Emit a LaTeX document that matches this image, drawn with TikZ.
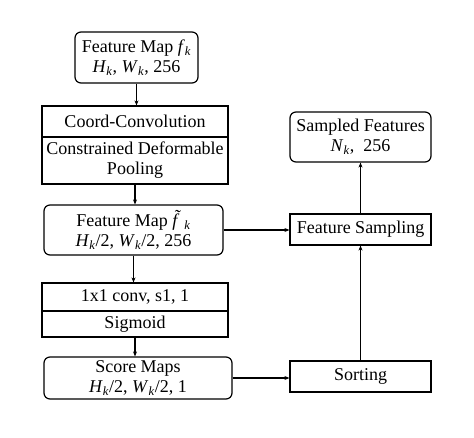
\documentclass[tikz,border=0pt]{standalone}
\usepackage{fontspec}
\setmainfont{Liberation Serif}
\usetikzlibrary{arrows.meta,positioning,calc}
\newcommand{\vsub}[2]{\textit{#1}\textsubscript{\textit{#2}}}
\tikzset{
  box/.style={draw,line width=1.2pt,inner sep=0pt,align=center,font=\fontsize{18}{20}\selectfont},
  rbox/.style={box,rounded corners=6pt},
  flow/.style={-{Stealth[length=5pt,width=4pt]},line width=1.2pt}
}
\begin{document}
\begin{tikzpicture}[x=1pt,y=-1pt]
      \useasboundingbox (0,0) rectangle (474,437);
      \begin{scope}
        \node[rbox,minimum width=123pt,minimum height=51pt] (fmap) at (136.5,57.5)
          {Feature Map \vsub{f}{k}\\ \vsub{H}{k}, \vsub{W}{k}, 256};
        \node[box,minimum width=186pt,minimum height=31pt] (coordconv) at (135,121.5) {Coord-Convolution};
        \node[box,minimum width=186pt,minimum height=47pt] (cdpool) at (135,160.5) {Constrained Deformable\\ Pooling};
        \node[rbox,minimum width=179pt,minimum height=50pt] (fmaptilde) at (133.5,230)
          {Feature Map \textit{\~{f}}\textsubscript{\textit{k}}\\ \vsub{H}{k}/2, \vsub{W}{k}/2, 256};
        \node[box,minimum width=186pt,minimum height=28pt] (conv) at (135,297) {1x1 conv, s1, 1};
        \node[box,minimum width=186pt,minimum height=26pt] (sigmoid) at (135,324) {Sigmoid};
        \node[rbox,minimum width=188pt,minimum height=42pt] (score) at (138,378)
          {Score Maps\\ \vsub{H}{k}/2, \vsub{W}{k}/2, 1};
      \end{scope}
      \begin{scope}
        \node[rbox,minimum width=141pt,minimum height=50pt] (sampled) at (360.5,137)
          {Sampled Features\\ \vsub{N}{k}, \ 256};
        \node[box,minimum width=141pt,minimum height=31pt] (fsampling) at (360.5,229.5) {Feature Sampling};
        \node[box,minimum width=141pt,minimum height=31pt] (sorting) at (360.5,376.5) {Sorting};
      \end{scope}
      \begin{scope}
        \draw[flow] (fmap.south) -- (fmap.south |- coordconv.north);
        \draw[flow] (cdpool.south) -- (cdpool.south |- fmaptilde.north);
        \draw[flow] (fmaptilde.south) -- (fmaptilde.south |- conv.north);
        \draw[flow] (sigmoid.south) -- (sigmoid.south |- score.north);
      \end{scope}
      \begin{scope}
        \draw[flow] (fmaptilde.east) -- (fmaptilde.east -| fsampling.west);
        \draw[flow] (score.east) -- (score.east -| sorting.west);
        \draw[flow] (sorting.north) -- (fsampling.south);
        \draw[flow] (fsampling.north) -- (sampled.south);
      \end{scope}
    \end{tikzpicture}
\end{document}
